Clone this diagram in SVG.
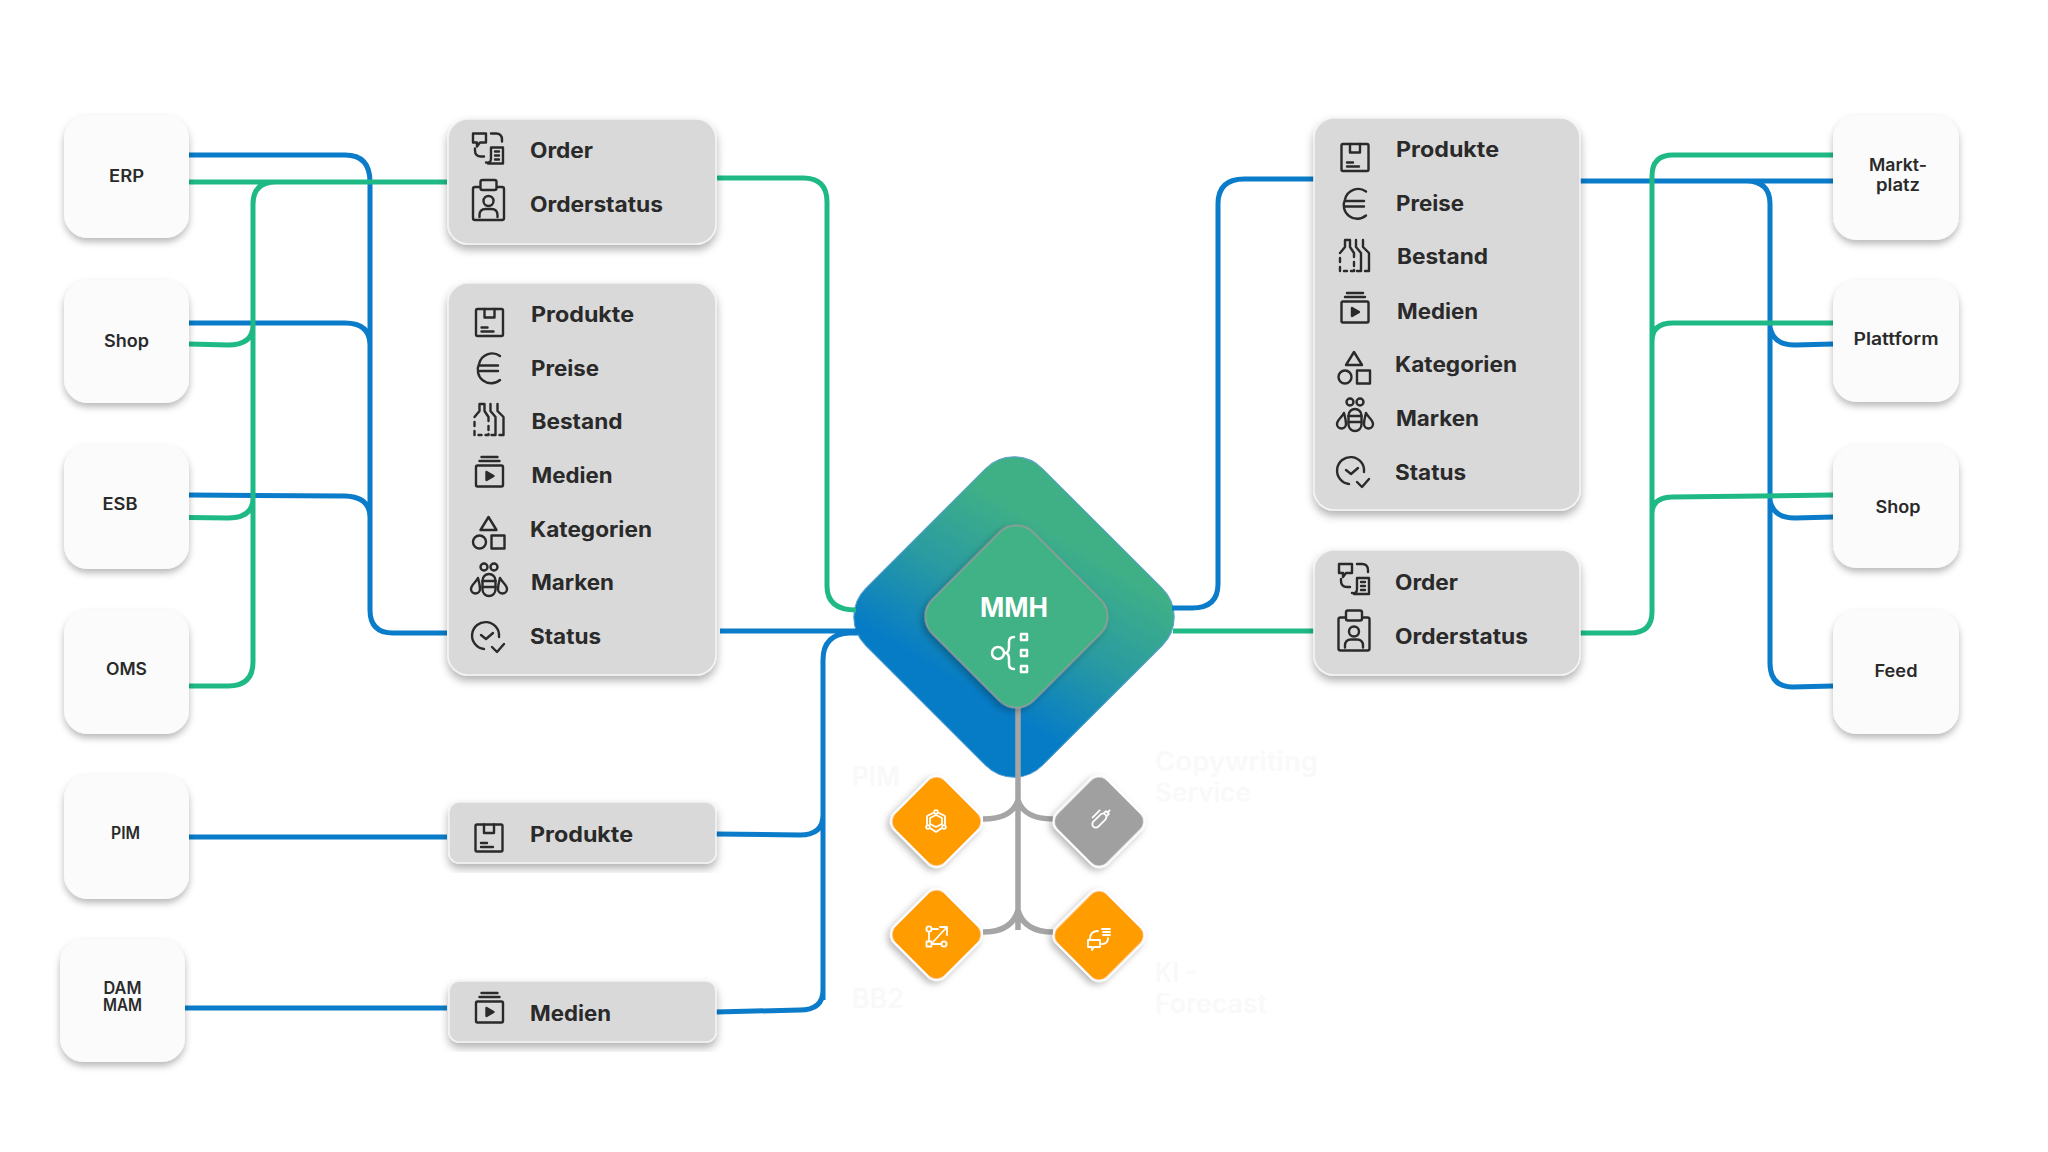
<svg xmlns="http://www.w3.org/2000/svg" width="2048" height="1152" viewBox="0 0 2048 1152">
<style>
text{font-family:Inter,"Liberation Sans",sans-serif;fill:#2a2a2a;font-weight:700}
.l{font-size:21px}
.s{font-size:17px;font-weight:600;text-anchor:middle}
.box{fill:#fbfbfb;filter:url(#sh)}
.panel{fill:#d9d9d9;stroke:#f4f4f4;stroke-width:1.5;filter:url(#sh2)}
.c{fill:none;stroke-width:5;stroke-linecap:butt;stroke-linejoin:round}
.b{stroke:#0a7cc9}.g{stroke:#1fb986}.y{stroke:#a5a5a5;stroke-width:5.5}
.i{fill:none;stroke:#2a2a2a;stroke-width:2.4;stroke-linecap:round;stroke-linejoin:round}
.w{fill:none;stroke:#fff;stroke-width:1.8;stroke-linecap:round;stroke-linejoin:round}
.o{fill:#ff9c00;stroke:#fff;stroke-width:2;filter:url(#sh)}
.f{fill:#f9f9f9;font-size:27px;font-weight:600}
</style>
<defs>
<filter id="sh" x="-20%" y="-20%" width="140%" height="150%"><feDropShadow dx="0" dy="4" stdDeviation="3.5" flood-color="#000" flood-opacity=".28"/></filter>
<filter id="sh2" x="-10%" y="-10%" width="120%" height="125%"><feDropShadow dx="0" dy="5" stdDeviation="4" flood-color="#000" flood-opacity=".3"/></filter>
<linearGradient id="gr" x1="0" y1="0" x2=".25" y2="1"><stop offset=".22" stop-color="#3fb086"/><stop offset=".55" stop-color="#2b9ca0"/><stop offset=".92" stop-color="#067cc6"/></linearGradient>
<g id="i-prod" class="i"><rect x="-13.5" y="-13.5" width="27" height="27" rx="1.5"/><path d="M-5-13.5V-5H5V-13.5M-8 5H-2M-8 9H4"/></g>
<g id="i-euro" class="i"><path d="M10-11.5A13.5 13.500 0 0 0-11-3.500 13.5 13.500 0 0 0 10 12.500M-11-2H8M-11 3.500H8"/></g>
<g id="i-best" class="i"><path d="M-10-16H-5V-9L-1-3V1M-1 6V10M-1 14V15H-4M-8 15H-11M-15 15V11M-15 6V2M-15-3L-10-9V-16M1-16V-9L6-3V15H2M8-16V-9L14-3V15H10"/></g>
<g id="i-med" class="i"><rect x="-13.5" y="-6.5" width="27" height="21" rx="1.5"/><path d="M-10-11H10M-8-15H8"/><path d="M-3 0L4 4-3 8Z" fill="#2a2a2a"/></g>
<g id="i-kat" class="i"><path d="M0-16L8-3H-8Z"/><circle cx="-9" cy="9" r="6.500"/><rect x="3" y="2.500" width="13" height="13"/></g>
<g id="i-mark" class="i"><circle cx="-5" cy="-13" r="3.500"/><circle cx="5" cy="-13" r="3.500"/><rect x="-6.500" y="-6" width="13" height="22" rx="6.500"/><path d="M-6.500 1H6.500M-6.500 7H6.500M-11-2C-13 2-18 5-18 9A4.500 4.500 0 0 0-9 9C-9 5-10 2-11-2M11-2C13 2 18 5 18 9A4.500 4.500 0 0 1 9 9C9 5 10 2 11-2"/></g>
<g id="i-stat" class="i"><path d="M-5 11A13.500 13.500 0 1 1 10-1"/><path d="M-8-3L-3 1 4-5M3 9L8 14 15 6"/></g>
<g id="i-ord" class="i"><path d="M-15-15H-2V-6H-8L-11-2V-6H-15ZM3-15H8Q14-15 14-9V-7M-13 0V2Q-13 8-7 8H-4M-2 14Q3 15 3 10V-1H15V15H0M7 3H11M7 7H11M7 11H11"/></g>
<g id="i-clip" class="i"><rect x="-15.500" y="-13" width="31" height="33" rx="2"/><rect x="-8" y="-20" width="16" height="10" rx="2" fill="#d9d9d9"/><circle cx="0" cy="1" r="5"/><path d="M-9 17V15Q-9 9-3 9H3Q9 9 9 15V17"/></g>
</defs>
<rect width="2048" height="1152" fill="#fff"/>
<g id="mmh-base"><rect x="889" y="492" width="250" height="250" rx="40" transform="rotate(45 1014 617)" fill="url(#gr)" stroke="#5a9fd0" stroke-width="1"/></g>
<g id="connectors">
<path class="c b" d="M189 155H345Q370 155 370 182V610Q370 633 393 633H447M189 323H345Q370 323 370 345M189 495L345 496Q370 497 370 517M189 837H447M185 1008H447M720 631H858M716 834L800 835Q823 835 823 815M716 1012L800 1010Q823 1010 823 990M823 1000V660Q823 634 850 633H858"/>
<path class="c g" d="M188 182H447M276 182Q253 182 253 204V662Q253 686 228 686H189M189 344L228 345Q253 345 253 325M189 517.500L228 518Q253 518 253 498M717 178H803Q827 178 827 202V586Q827 610 856 610M1173 631H1314"/>
<path class="c b" d="M1172 608H1192Q1218 608 1218 584V204Q1218 179 1244 179H1314M1580 181H1833M1746 181Q1770 181 1770 204V663Q1770 687 1793 687L1833 686M1770 327Q1773 345 1795 345L1833 344M1770 500Q1773 518 1795 518L1833 517"/>
<path class="c g" d="M1580 633H1630Q1652 633 1652 612V176Q1652 155 1673 155H1833M1652 341Q1652 323 1673 323H1833M1652 514Q1652 497 1673 497L1833 495"/>
<path class="c y" d="M1018 705V930M983 819Q1012 819 1018 800M1053 819Q1024 819 1018 800M983 932Q1012 932 1018 910M1053 932Q1024 932 1018 910"/>
</g>
<g id="erp"><rect class="box" x="64" y="115" width="125" height="123" rx="24"/><text class="s" x="126.500" y="182" textLength="35" lengthAdjust="spacingAndGlyphs">ERP</text></g>
<g id="shop-l"><rect class="box" x="64" y="280" width="125" height="123" rx="24"/><text class="s" x="126.500" y="347" textLength="45" lengthAdjust="spacingAndGlyphs">Shop</text></g>
<g id="esb"><rect class="box" x="64" y="445" width="125" height="124" rx="24"/><text class="s" x="120" y="510" textLength="35" lengthAdjust="spacingAndGlyphs">ESB</text></g>
<g id="oms"><rect class="box" x="64" y="610" width="125" height="124" rx="24"/><text class="s" x="126.500" y="675" textLength="41" lengthAdjust="spacingAndGlyphs">OMS</text></g>
<g id="pim"><rect class="box" x="64" y="775" width="125" height="124" rx="24"/><text class="s" x="125.500" y="839" textLength="29" lengthAdjust="spacingAndGlyphs">PIM</text></g>
<g id="dam"><rect class="box" x="60" y="939" width="125" height="123" rx="24"/><text class="s" x="122.500" y="994" textLength="38" lengthAdjust="spacingAndGlyphs">DAM</text><text class="s" x="122.500" y="1011" textLength="39" lengthAdjust="spacingAndGlyphs">MAM</text></g>
<g id="panel-l-order"><rect class="panel" x="448" y="119" width="268" height="125" rx="20"/>
<use href="#i-ord" x="488" y="148.500"/><use href="#i-clip" x="488.500" y="200"/>
<text class="l" x="530" y="158" textLength="63" lengthAdjust="spacingAndGlyphs">Order</text><text class="l" x="530" y="212" textLength="133" lengthAdjust="spacingAndGlyphs">Orderstatus</text></g>
<g id="panel-l-data"><rect class="panel" x="448" y="283" width="268" height="392" rx="20"/>
<use href="#i-prod" x="489.500" y="322.500"/><use href="#i-euro" x="490" y="367.500"/><use href="#i-best" x="489.500" y="420"/><use href="#i-med" x="489.500" y="472"/><use href="#i-kat" x="488.500" y="533"/><use href="#i-mark" x="489" y="580"/><use href="#i-stat" x="489" y="638"/>
<text class="l" x="531" y="322" textLength="103" lengthAdjust="spacingAndGlyphs">Produkte</text><text class="l" x="531" y="376" textLength="68" lengthAdjust="spacingAndGlyphs">Preise</text><text class="l" x="531.500" y="429" textLength="91" lengthAdjust="spacingAndGlyphs">Bestand</text><text class="l" x="531.500" y="483" textLength="81" lengthAdjust="spacingAndGlyphs">Medien</text><text class="l" x="530" y="537" textLength="122" lengthAdjust="spacingAndGlyphs">Kategorien</text><text class="l" x="531" y="590" textLength="83" lengthAdjust="spacingAndGlyphs">Marken</text><text class="l" x="530" y="644" textLength="71" lengthAdjust="spacingAndGlyphs">Status</text></g>
<g id="panel-l-prod"><rect class="panel" x="449" y="802" width="267" height="61" rx="10"/><use href="#i-prod" x="489" y="838"/><text class="l" x="530" y="842" textLength="103" lengthAdjust="spacingAndGlyphs">Produkte</text></g>
<g id="panel-l-med"><rect class="panel" x="449" y="981" width="267" height="61" rx="10"/><use href="#i-med" x="489.500" y="1008"/><text class="l" x="530" y="1021" textLength="81" lengthAdjust="spacingAndGlyphs">Medien</text></g>
<g id="panel-r-data"><rect class="panel" x="1314" y="118" width="266" height="392" rx="20"/>
<use href="#i-prod" x="1355" y="157.500"/><use href="#i-euro" x="1356" y="203"/><use href="#i-best" x="1355" y="256"/><use href="#i-med" x="1355" y="308"/><use href="#i-kat" x="1354" y="368"/><use href="#i-mark" x="1355" y="415"/><use href="#i-stat" x="1354" y="473"/>
<text class="l" x="1396" y="157" textLength="103" lengthAdjust="spacingAndGlyphs">Produkte</text><text class="l" x="1396" y="211" textLength="68" lengthAdjust="spacingAndGlyphs">Preise</text><text class="l" x="1397" y="264" textLength="91" lengthAdjust="spacingAndGlyphs">Bestand</text><text class="l" x="1397" y="319" textLength="81" lengthAdjust="spacingAndGlyphs">Medien</text><text class="l" x="1395" y="372" textLength="122" lengthAdjust="spacingAndGlyphs">Kategorien</text><text class="l" x="1396" y="425.500" textLength="83" lengthAdjust="spacingAndGlyphs">Marken</text><text class="l" x="1395" y="480" textLength="71" lengthAdjust="spacingAndGlyphs">Status</text></g>
<g id="panel-r-order"><rect class="panel" x="1314" y="550" width="266" height="125" rx="20"/><use href="#i-ord" x="1354" y="579"/><use href="#i-clip" x="1354" y="630.500"/><text class="l" x="1395" y="590" textLength="63" lengthAdjust="spacingAndGlyphs">Order</text><text class="l" x="1395" y="644" textLength="133" lengthAdjust="spacingAndGlyphs">Orderstatus</text></g>
<g id="marktplatz"><rect class="box" x="1833" y="115" width="126" height="125" rx="24"/><text class="s" x="1898" y="171" textLength="58" lengthAdjust="spacingAndGlyphs">Markt-</text><text class="s" x="1898" y="191" textLength="44" lengthAdjust="spacingAndGlyphs">platz</text></g>
<g id="plattform"><rect class="box" x="1833" y="280" width="126" height="122" rx="24"/><text class="s" x="1896" y="345" textLength="85" lengthAdjust="spacingAndGlyphs">Plattform</text></g>
<g id="shop-r"><rect class="box" x="1833" y="445" width="126" height="123" rx="24"/><text class="s" x="1898" y="513" textLength="45" lengthAdjust="spacingAndGlyphs">Shop</text></g>
<g id="feed"><rect class="box" x="1833" y="610" width="126" height="124" rx="24"/><text class="s" x="1896" y="677" textLength="43" lengthAdjust="spacingAndGlyphs">Feed</text></g>
<g id="mmh"><rect x="945" y="545" width="143" height="143" rx="24" transform="rotate(45 1016.500 616.500)" fill="#40b285" stroke="#9a9a9a" stroke-width="1.500" filter="url(#sh)"/>
<text x="1014" y="617" text-anchor="middle" font-size="27" style="fill:#fff" textLength="68" lengthAdjust="spacingAndGlyphs">MMH</text>
<g class="w" style="stroke-width:2.500"><circle cx="998" cy="653" r="6"/><path d="M1014 637Q1009 637 1009 642V647Q1009 653 1005 653Q1009 653 1009 659V664Q1009 669 1014 669"/><rect x="1021" y="634" width="6" height="6"/><rect x="1021" y="650" width="6" height="6"/><rect x="1021" y="666" width="6" height="6"/></g></g>
<g id="node-pim"><rect class="o" x="901" y="786" width="71" height="71" rx="12" transform="rotate(45 936.500 821.500)"/><g class="w" transform="translate(936 821)"><path d="M0-6L6-3V3L0 6-6 3V-3ZM3-8L9-5V3M-3-8L-9-5V3M-6 7L0 11 6 7"/><circle cx="0" cy="-9" r="1.800"/><circle cx="-8" cy="6" r="1.800"/><circle cx="8" cy="6" r="1.800"/></g></g>
<g id="node-copy"><rect class="o" x="1063.500" y="786" width="71" height="71" rx="12" transform="rotate(45 1099 821.500)" style="fill:#a0a0a0"/><g class="w" transform="translate(1099 821) rotate(45)"><rect x="-3.500" y="-9" width="7" height="17" rx="3.500"/><path d="M-2-9V-12H2V-9M-7-8V2M0-12V-15"/></g></g>
<g id="node-bb2"><rect class="o" x="901" y="899" width="71" height="71" rx="12" transform="rotate(45 936.500 934.500)"/><g class="w"><circle cx="929" cy="929" r="2.600"/><circle cx="944" cy="944" r="2.600"/><rect x="926.500" y="941.500" width="5" height="5"/><path d="M929 932V941M932 929H938M932 944H941M933 942L947 927M940 927H947V935"/></g></g>
<g id="node-ki"><rect class="o" x="1063.500" y="900" width="71" height="71" rx="12" transform="rotate(45 1099 935.500)"/><path class="w" d="M1090 939Q1090 931 1098 931M1088 940H1100V947H1094L1092 950V947H1088ZM1102 929H1110M1103 932H1110M1103 935H1110M1108 938Q1108 944 1102 944"/></g>
<g id="faint"><text class="f" x="852" y="786" textLength="48" lengthAdjust="spacingAndGlyphs">PIM</text><text class="f" x="852" y="1008" textLength="52" lengthAdjust="spacingAndGlyphs">BB2</text><text class="f" x="1155" y="771" textLength="163" lengthAdjust="spacingAndGlyphs">Copywriting</text><text class="f" x="1155" y="802" textLength="96" lengthAdjust="spacingAndGlyphs">Service</text><text class="f" x="1155" y="982" textLength="42" lengthAdjust="spacingAndGlyphs">KI -</text><text class="f" x="1155" y="1013" textLength="112" lengthAdjust="spacingAndGlyphs">Forecast</text></g>
</svg>
